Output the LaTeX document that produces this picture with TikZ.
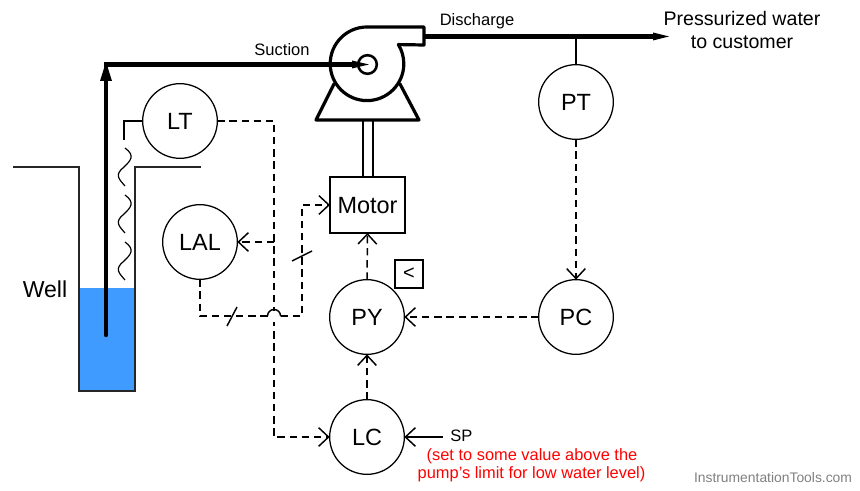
\documentclass[tikz,border=0pt]{standalone}
\usepackage{fontspec}
\setmainfont{Liberation Sans}
\usetikzlibrary{arrows.meta}
\definecolor{water}{HTML}{3F9BFF}
\tikzset{
  x=0.75pt,y=-0.75pt,
  inst/.style={circle,draw,line width=0.95pt,minimum size=56pt,inner sep=0pt,outer sep=0pt,font=\fontsize{17.6}{20}\selectfont},
  sig/.style={line width=1.1pt,dash pattern=on 5.5pt off 3.6pt},
  barb/.style={-{Straight Barb[length=7.5pt,width=14pt,line width=1.1pt]}},
  slash/.style={line width=1.1pt},
  thin line/.style={line width=1.1pt},
  wall/.style={line width=1.1pt,draw=black!85},
  pipe/.style={line width=3.3pt},
  bodyline/.style={line width=2.4pt,line join=round,line cap=round},
  lab/.style={font=\fontsize{12.4}{14}\selectfont,inner sep=0pt},
  redlab/.style={font=\fontsize{12.3}{14}\selectfont,text=red,inner sep=0pt},
  biglab/.style={font=\fontsize{14.7}{17}\selectfont,inner sep=0pt},
}
\begin{document}
\begin{tikzpicture}
\useasboundingbox (0,0) rectangle (860,491);
% well
\fill[water] (79,288) rectangle (135,391);
\draw[wall] (13,167) -- (79,167) -- (79,391) -- (135,391) -- (135,167) -- (201,167);
% coordinates
\coordinate (pipeend) at (106,335);
\coordinate (pipecorner) at (106,65);
\coordinate (pumpc) at (367.5,64.5);
\coordinate (suctiontip) at (369,64.5);
\coordinate (disch) at (424,36.5);
\coordinate (dischend) at (660,36.5);
\coordinate (tap) at (576,36.5);
% pipes
\draw[pipe,line cap=round] (pipeend) -- (pipecorner);
\fill (100,81) -- (106,62) -- (112,81) -- cycle;
\draw[pipe,line cap=round] (pipecorner) -- (106,64.5) -- (356,64.5);
\draw[pipe] (disch) -- (dischend);
\fill (669,36.5) -- (653,32.5) -- (653,40.5) -- cycle;
% pump
\draw[bodyline] (367,27) arc[start angle=90,end angle=391.5,radius=27.6pt] -- (424,45) -- (424,27) -- cycle;
\draw[line width=1.9pt] (pumpc) circle[radius=7pt];
\fill (suctiontip) -- (352,60.5) -- (352,68.5) -- cycle;
\draw[bodyline] (334,84) -- (316,120) -- (419,120) -- (400,84);
\draw[thin line] (363,120) -- (363,177) (373,120) -- (373,177);
% motor
\node[draw,line width=1.1pt,minimum width=56.25pt,minimum height=42pt,inner sep=0pt,outer sep=0pt,font=\fontsize{17.6}{20}\selectfont,text depth=-1pt] (motor) at (367.5,205) {Motor};
% instruments
\node[inst] (lt) at (180,121) {LT};
\node[inst] (lal) at (200,242) {LAL};
\node[inst] (pt) at (576,102) {PT};
\node[inst] (pc) at (576,317) {PC};
\node[inst] (py) at (367,317) {PY};
\node[inst] (lc) at (367,437) {LC};
\node[draw,line width=1.1pt,minimum size=21pt,inner sep=0pt,font=\fontsize{15}{16}\selectfont] (sel) at (409,274) {<};
% capillary and bellows
\coordinate (ltb) at (124,140);
\draw[thin line] (lt.west) -- (124,121) -- (ltb);
\foreach \s in {148,195,242}{
  \draw[line width=0.9pt] (125,\s) .. controls (136,\s+8) and (130,\s+13) .. (124,\s+19)
     .. controls (114,\s+27) and (119,\s+31) .. (125,\s+38);
}
% signals
\coordinate (j1) at (274,121);
\coordinate (j2) at (274,437);
\coordinate (j3) at (274,242);
\coordinate (c1) at (200,316);
\coordinate (h1) at (267.5,316);
\coordinate (h2) at (280.5,316);
\coordinate (c2) at (302,316);
\coordinate (c3) at (302,205);
\draw[sig,barb] (lt.east) -- (j1) -- (j2) -- (lc.west);
\draw[sig,barb] (j3) -- (lal.east);
\fill[white] (268,311) rectangle (280,322);
\draw[sig] (lal.south) -- (c1) -- (h1);
\draw[thin line] (h1) arc[start angle=180,end angle=0,radius=4.9pt] -- (h2);
\draw[sig,barb] (h2) -- (c2) -- (c3) -- (motor.west |- c3);
\draw[slash] (227,326) -- (237,307);
\draw[slash] (292,261) -- (312,251);
\draw[thin line] (tap) -- (pt.north);
\draw[sig,barb] (pt.south) -- (pc.north);
\draw[sig,barb] (pc.west) -- (py.east);
\draw[sig,barb] (py.north) -- (motor.south);
\draw[sig,barb] (lc.north) -- (py.south);
\coordinate (spc) at (443,437);
\draw[thin line,barb] (spc) -- (lc.east);
% labels
\node[lab] (suction) at (282,49.5) {Suction};
\node[lab] (discharge) at (477,21) {Discharge};
\node[biglab] (cust1) at (742,19) {Pressurized water};
\node[biglab] (cust2) at (742,42) {to customer};
\node[font=\fontsize{17.3}{20}\selectfont,inner sep=0pt] (well) at (45,289) {Well};
\node[lab,anchor=west] (sp) at (450,436) {SP};
\node[redlab] (r1) at (532,456) {(set to some value above the};
\node[redlab] (r2) at (531.5,474) {pump’s limit for low water level)};
\node[font=\fontsize{10.4}{12}\selectfont,text=black!50,inner sep=0pt] (wm) at (773,478) {InstrumentationTools.com};
\end{tikzpicture}
\end{document}
